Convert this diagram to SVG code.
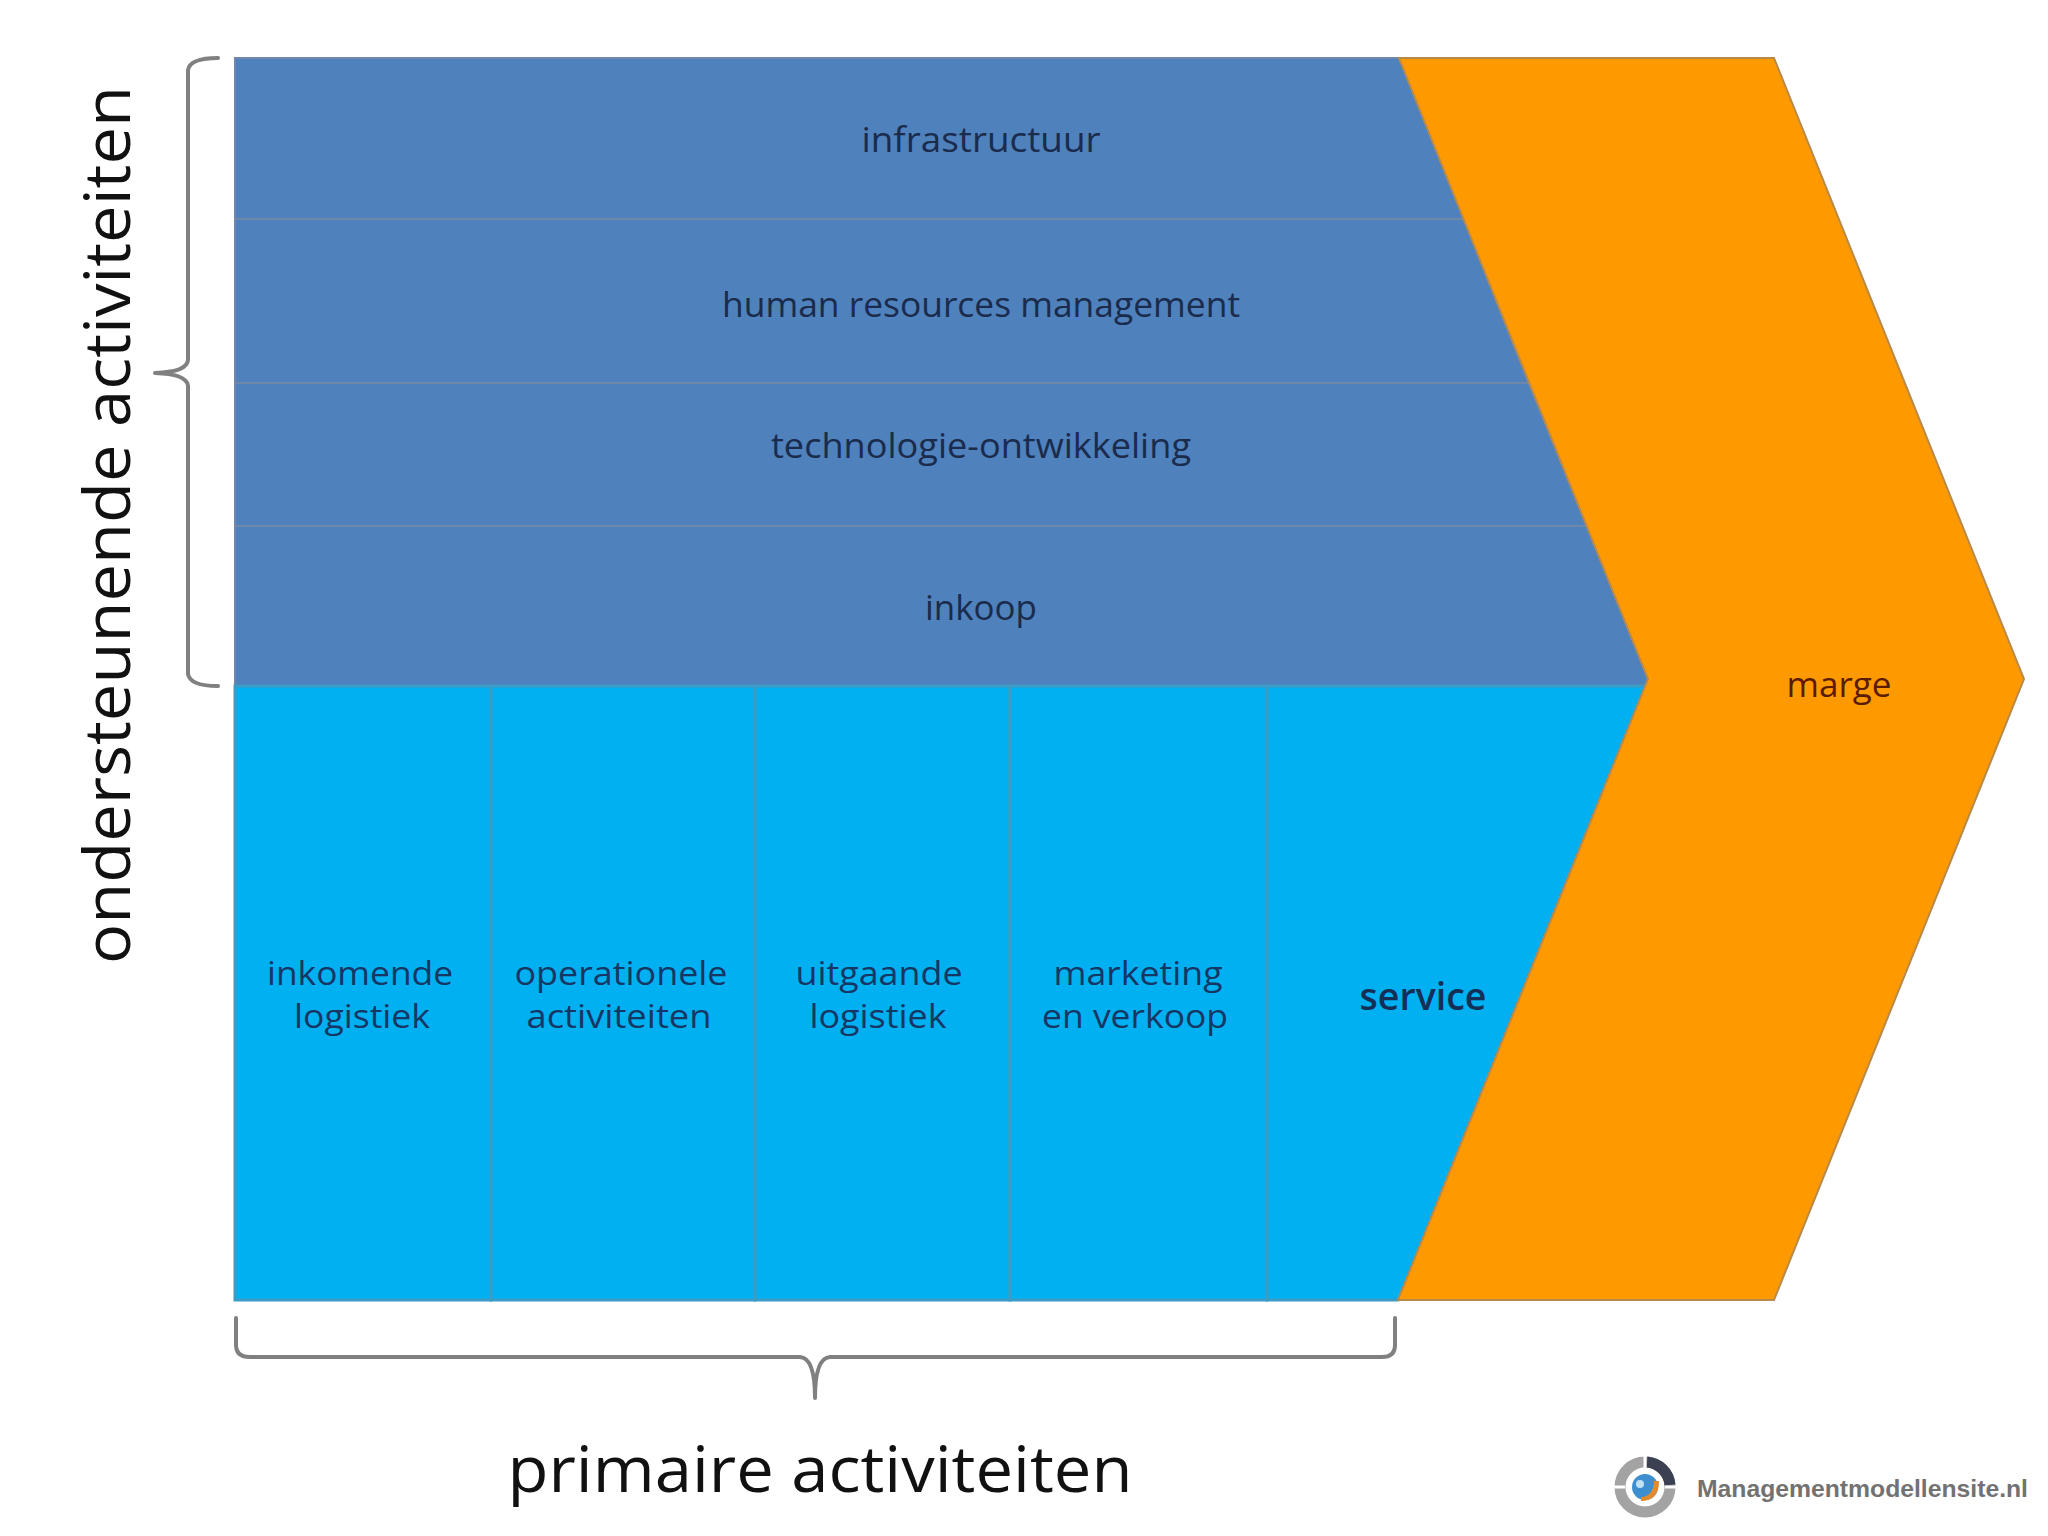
<svg xmlns="http://www.w3.org/2000/svg" width="2048" height="1536" viewBox="0 0 2048 1536">
  <style>
    .row { fill: #4f81bd; stroke: #6f88aa; stroke-width: 2; }
    .col { fill: #00b0f0; stroke: #3c9cc6; stroke-width: 3; }
    .lbl { font-family: "Open Sans", "Noto Sans", sans-serif; font-size: 34px; fill: #1a2b4c; text-anchor: middle; }
    .clbl { font-family: "Open Sans", "Noto Sans", sans-serif; font-size: 33px; fill: #163663; text-anchor: middle; }
    .brk { fill: none; stroke: #808080; stroke-width: 4; stroke-linecap: round; stroke-linejoin: round; }
    .big { font-family: "Open Sans", "Noto Sans", sans-serif; font-size: 64px; fill: #111111; text-anchor: middle; }
  </style>
  <rect x="0" y="0" width="2048" height="1536" fill="#ffffff"/>

  <g id="infrastructuur">
    <polygon class="row" points="235,58 1399,58 1464,219 235,219"/>
    <text class="lbl" x="981" y="152" textLength="239" lengthAdjust="spacingAndGlyphs">infrastructuur</text>
  </g>
  <g id="human-resources-management">
    <polygon class="row" points="235,219 1464,219 1529,383 235,383"/>
    <text class="lbl" x="981" y="317" textLength="518" lengthAdjust="spacingAndGlyphs">human resources management</text>
  </g>
  <g id="technologie-ontwikkeling">
    <polygon class="row" points="235,383 1529,383 1587,526 235,526"/>
    <text class="lbl" x="981" y="458" textLength="420" lengthAdjust="spacingAndGlyphs">technologie-ontwikkeling</text>
  </g>
  <g id="inkoop">
    <polygon class="row" points="235,526 1587,526 1648,679 1645,686 235,686"/>
    <text class="lbl" x="981" y="620" textLength="112" lengthAdjust="spacingAndGlyphs">inkoop</text>
  </g>

  <g id="inkomende-logistiek">
    <rect class="col" x="235" y="686" width="256" height="614"/>
    <text class="clbl" x="360" y="985" textLength="186" lengthAdjust="spacingAndGlyphs">inkomende</text>
    <text class="clbl" x="362" y="1028" textLength="136" lengthAdjust="spacingAndGlyphs">logistiek</text>
  </g>
  <g id="operationele-activiteiten">
    <rect class="col" x="491" y="686" width="264" height="614"/>
    <text class="clbl" x="621" y="985" textLength="213" lengthAdjust="spacingAndGlyphs">operationele</text>
    <text class="clbl" x="619" y="1028" textLength="185" lengthAdjust="spacingAndGlyphs">activiteiten</text>
  </g>
  <g id="uitgaande-logistiek">
    <rect class="col" x="755" y="686" width="255" height="614"/>
    <text class="clbl" x="879" y="985" textLength="167" lengthAdjust="spacingAndGlyphs">uitgaande</text>
    <text class="clbl" x="878" y="1028" textLength="137" lengthAdjust="spacingAndGlyphs">logistiek</text>
  </g>
  <g id="marketing-en-verkoop">
    <rect class="col" x="1010" y="686" width="257" height="614"/>
    <text class="clbl" x="1138" y="985" textLength="169" lengthAdjust="spacingAndGlyphs">marketing</text>
    <text class="clbl" x="1135" y="1028" textLength="186" lengthAdjust="spacingAndGlyphs">en verkoop</text>
  </g>
  <g id="service">
    <polygon class="col" points="1267,686 1645,686 1398,1300 1267,1300"/>
    <text class="clbl" x="1423" y="1010" style="font-size:38px;font-weight:600;fill:#142f55" textLength="127" lengthAdjust="spacingAndGlyphs">service</text>
  </g>

  <g id="marge">
    <polygon points="1399,58 1774,58 2024,679 1774,1300 1398,1300 1648,679" fill="#ff9900" stroke="#b88a4a" stroke-width="2" stroke-linejoin="miter"/>
    <text x="1839" y="697" font-family="'Open Sans', 'Noto Sans', sans-serif" font-size="34" fill="#5a1c05" text-anchor="middle" textLength="105" lengthAdjust="spacingAndGlyphs">marge</text>
  </g>

  <g id="brackets">
    <path class="brk" d="M218,58 Q190,58 188,70 L188,360 Q187,372 155,373 Q187,374 188,386 L188,674 Q190,686 218,686"/>
    <path class="brk" d="M236,1318 L236,1345 Q236,1357 250,1357 L800,1357 Q815,1358 815,1398 Q815,1358 830,1357 L1382,1357 Q1395,1357 1395,1345 L1395,1318"/>
  </g>

  <g id="ondersteunende-activiteiten">
    <text class="big" transform="translate(130,525) rotate(-90)" x="0" y="0" textLength="878" lengthAdjust="spacingAndGlyphs">ondersteunende activiteiten</text>
  </g>
  <g id="primaire-activiteiten">
    <text class="big" x="820" y="1492" textLength="625" lengthAdjust="spacingAndGlyphs">primaire activiteiten</text>
  </g>

  <g id="logo">
    <circle cx="1645" cy="1487" r="25" fill="none" stroke="#a3a3a3" stroke-width="11"/>
    <path d="M1647,1462 A25,25 0 0 1 1670,1485" fill="none" stroke="#3b4152" stroke-width="11"/>
    <line x1="1645" y1="1455" x2="1645" y2="1468" stroke="#ffffff" stroke-width="3"/>
    <line x1="1665" y1="1487" x2="1678" y2="1487" stroke="#ffffff" stroke-width="3"/>
    <line x1="1612" y1="1487" x2="1625" y2="1487" stroke="#ffffff" stroke-width="3"/>
    <circle cx="1645" cy="1487" r="13" fill="#3d8fcf"/>
    <path d="M1641,1497 Q1653,1497 1654,1481 L1659,1481 Q1659,1501 1641,1501 Z" fill="#e38b2c"/>
    <circle cx="1640" cy="1484" r="4" fill="#bfe3f5"/>
    <text x="1697" y="1497" font-family="'Liberation Sans', Arial, sans-serif" font-size="24" font-weight="bold" fill="#727272" textLength="331" lengthAdjust="spacingAndGlyphs">Managementmodellensite.nl</text>
  </g>
</svg>
